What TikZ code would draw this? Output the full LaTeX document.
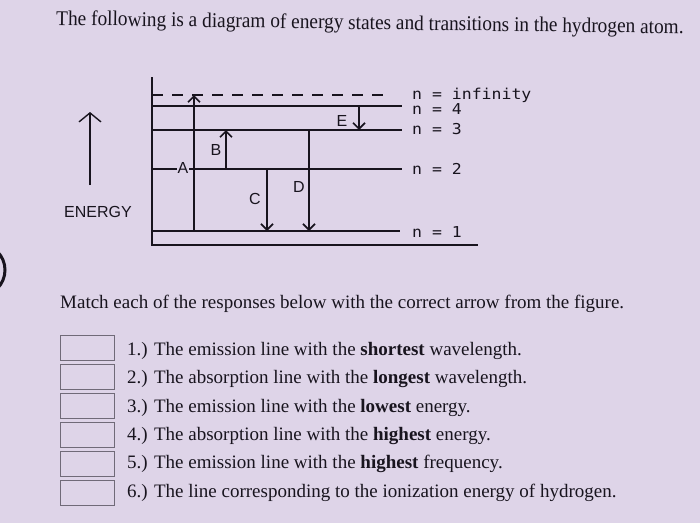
\documentclass[tikz,border=0pt]{standalone}
\usepackage{fontspec}
\setmainfont{Liberation Serif}
\newfontfamily\titlefont[FakeStretch=0.92]{Liberation Serif}
\newfontfamily\diagfont{Liberation Sans}
\newfontfamily\levelfont[FakeStretch=1.1]{DejaVu Sans Mono}
\usetikzlibrary{arrows.meta}
\definecolor{screen}{RGB}{222,212,232}
\definecolor{ink}{RGB}{24,20,30}
\definecolor{boxline}{RGB}{112,106,120}

\begin{document}
\begin{tikzpicture}[x=1pt,y=-1pt,
		level/.style={ink,line width=1.7pt},
		trans/.style={ink,line width=1.7pt,-{Straight Barb[length=6pt,width=12pt]}},
		letter/.style={inner sep=1pt,font=\diagfont\fontsize{16}{16}\selectfont,text=ink},
		nlabel/.style={anchor=base west,inner sep=0pt,font=\levelfont\fontsize{15}{15}\selectfont,text=ink},
		question/.style={anchor=base west,inner sep=0pt,font=\fontsize{19}{20}\selectfont,text=ink},
		answerbox/.style={draw=boxline,line width=1pt,minimum width=54,minimum height=25,anchor=north west}]
		\fill[screen] (0,0) rectangle (700,523);
		\useasboundingbox (0,0) rectangle (700,523);
%		\draw[help lines,step=50] (0,0) grid (700,523);
		\draw[ink,line width=3pt] (-21,270) circle (26);
		\path (56,25) node(title) [question,rotate=-0.8,font=\titlefont\fontsize{21}{22}\selectfont] {The following is a diagram of energy states and transitions in the hydrogen atom.};

		% energy axis
		\path (90,185) coordinate (energy_bot);
		\path (90,112) coordinate (energy_top);
		\draw[ink,line width=1.4pt,-{Straight Barb[length=9pt,width=22pt]}] (energy_bot) -- (energy_top);
		\path (98,212) node(energy) [letter] {ENERGY};

		% frame
		\path (152,77) coordinate (frame_top);
		\path (152,245) coordinate (frame_bot);
		\path (478,245) coordinate (frame_right);
		\draw[level] (frame_top) -- (frame_bot) -- (frame_right);

		% levels
		\path (152,95) coordinate (inf_l);
		\path (392,95) coordinate (inf_r);
		\path (152,106) coordinate (n4_l);
		\path (402,106) coordinate (n4_r);
		\path (152,130) coordinate (n3_l);
		\path (402,130) coordinate (n3_r);
		\path (152,169) coordinate (n2_l);
		\path (402,169) coordinate (n2_r);
		\path (152,231) coordinate (n1_l);
		\path (400,231) coordinate (n1_r);
		\draw[level,dash pattern=on 11pt off 9pt] (inf_l) -- (inf_r);
		\draw[level] (n4_l) -- (n4_r);
		\draw[level] (n3_l) -- (n3_r);
		\draw[level] (n2_l) -- (n2_r);
		\draw[level] (n1_l) -- (n1_r);
		\path (412,99) node(lbl_inf) [nlabel] {n = infinity};
		\path (412,114) node(lbl_n4) [nlabel] {n = 4};
		\path (412,134) node(lbl_n3) [nlabel] {n = 3};
		\path (412,174) node(lbl_n2) [nlabel] {n = 2};
		\path (412,237) node(lbl_n1) [nlabel] {n = 1};

		% transitions
		\path (194,231) coordinate (a_from);
		\path (194,95) coordinate (a_to);
		\path (226,169) coordinate (b_from);
		\path (226,130) coordinate (b_to);
		\path (267,169) coordinate (c_from);
		\path (267,231) coordinate (c_to);
		\path (309,130) coordinate (d_from);
		\path (309,231) coordinate (d_to);
		\path (359,106) coordinate (e_from);
		\path (359,130) coordinate (e_to);
		\draw[trans] (a_from) -- (a_to);
		\draw[trans] (b_from) -- (b_to);
		\draw[trans] (c_from) -- (c_to);
		\draw[trans] (d_from) -- (d_to);
		\draw[trans] (e_from) -- (e_to);
		\path (183,168) node(lbl_a) [letter,fill=screen] {A};
		\path (216,150) node(lbl_b) [letter] {B};
		\path (255,199) node(lbl_c) [letter] {C};
		\path (299,187) node(lbl_d) [letter] {D};
		\path (342,121) node(lbl_e) [letter] {E};

		% questions
		\path (60,308) node(prompt) [question] {Match each of the responses below with the correct arrow from the figure.};
		\path (60,335) node(box1) [answerbox] {};
		\path (60,364) node(box2) [answerbox] {};
		\path (60,393) node(box3) [answerbox] {};
		\path (60,422) node(box4) [answerbox] {};
		\path (60,451) node(box5) [answerbox] {};
		\path (60,480) node(box6) [answerbox] {};
		\path (127,355) node(item1) [question] {1.) The emission line with the \textbf{shortest} wavelength.};
		\path (127,383) node(item2) [question] {2.) The absorption line with the \textbf{longest} wavelength.};
		\path (127,412) node(item3) [question] {3.) The emission line with the \textbf{lowest} energy.};
		\path (127,440) node(item4) [question] {4.) The absorption line with the \textbf{highest} energy.};
		\path (127,468) node(item5) [question] {5.) The emission line with the \textbf{highest} frequency.};
		\path (127,497) node(item6) [question] {6.) The line corresponding to the ionization energy of hydrogen.};
	\end{tikzpicture}
\end{document}
